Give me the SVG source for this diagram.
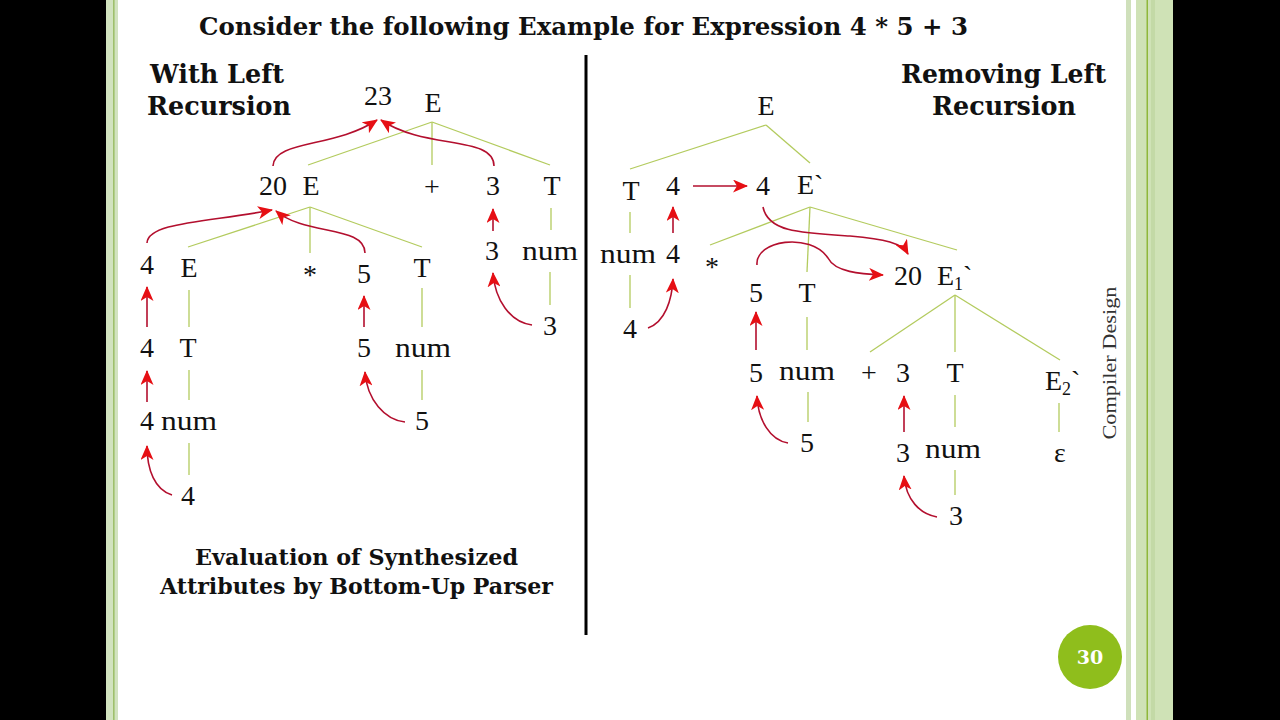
<svg xmlns="http://www.w3.org/2000/svg" width="1280" height="720" viewBox="0 0 1280 720">
<defs>
<style>
.lbl{font-family:"Liberation Serif","Times New Roman",serif;font-size:28px;fill:#111;text-anchor:middle}
.st{font-family:"Liberation Serif","Times New Roman",serif;font-size:28px;fill:#111}
.hd{font-family:"DejaVu Serif","Liberation Serif",serif;font-weight:bold;fill:#111}
.tl{stroke:#b3cb5e;stroke-width:1.3;fill:none}
.ar{stroke:#b30f2e;stroke-width:1.6;fill:none;marker-end:url(#ah)}
</style>
<marker id="ah" markerUnits="userSpaceOnUse" markerWidth="15" markerHeight="13" refX="14" refY="6.5" orient="auto">
<path d="M0,0 L15,6.5 L0,13 L4,6.5 z" fill="#e60f14"/>
</marker>
</defs>
<rect x="0" y="0" width="1280" height="720" fill="#ffffff"/>
<!-- borders -->
<rect x="0" y="0" width="106" height="720" fill="#000"/>
<rect x="106" y="0" width="12" height="720" fill="#d2e3bf"/>
<rect x="113" y="0" width="1.6" height="720" fill="#9fc06c"/>
<rect x="1126" y="0" width="5" height="720" fill="#cfe0bb"/>
<rect x="1136" y="0" width="37" height="720" fill="#cfe2b6"/>
<rect x="1146.5" y="0" width="1.5" height="720" fill="#8fb73a"/>
<rect x="1151" y="0" width="4" height="720" fill="#c3d9a6"/>
<rect x="1173" y="0" width="107" height="720" fill="#000"/>

<!-- headings -->
<g id="title"><text class="hd" x="199" y="35" font-size="24" textLength="769" lengthAdjust="spacingAndGlyphs">Consider the following Example for Expression 4 * 5 + 3</text></g>
<g id="head-left">
<text class="hd" x="150" y="83" font-size="26" textLength="134" lengthAdjust="spacingAndGlyphs">With Left</text>
<text class="hd" x="147" y="115" font-size="26" textLength="144" lengthAdjust="spacingAndGlyphs">Recursion</text>
</g>
<g id="head-right">
<text class="hd" x="901" y="83" font-size="26" textLength="205" lengthAdjust="spacingAndGlyphs">Removing Left</text>
<text class="hd" x="932" y="115" font-size="26" textLength="144" lengthAdjust="spacingAndGlyphs">Recursion</text>
</g>
<g id="caption">
<text class="hd" x="195" y="565" font-size="22" textLength="323" lengthAdjust="spacingAndGlyphs">Evaluation of Synthesized</text>
<text class="hd" x="160" y="594" font-size="22" textLength="393" lengthAdjust="spacingAndGlyphs">Attributes by Bottom-Up Parser</text>
</g>
<g id="divider"><line x1="586" y1="55" x2="586" y2="635" stroke="#000" stroke-width="3"/></g>
<g id="footer-side"><text x="0" y="0" transform="translate(1116,363) rotate(-90)" font-family="'Liberation Serif',serif" font-size="18" fill="#333" text-anchor="middle" textLength="153" lengthAdjust="spacingAndGlyphs">Compiler Design</text></g>
<g id="page-number">
<circle cx="1090" cy="657" r="32" fill="#8fbe1c"/>
<text x="1090" y="664" font-family="'DejaVu Serif',serif" font-weight="bold" font-size="19" fill="#fff" text-anchor="middle">30</text>
</g>

<!-- connectors -->
<g id="connectors">
<g id="tree-edges">
<line class="tl" x1="432" y1="122" x2="308" y2="165"/>
<line class="tl" x1="432" y1="122" x2="432" y2="165"/>
<line class="tl" x1="432" y1="122" x2="550" y2="165"/>
<line class="tl" x1="310" y1="207" x2="188" y2="247"/>
<line class="tl" x1="310" y1="207" x2="310" y2="253"/>
<line class="tl" x1="310" y1="207" x2="422" y2="247"/>
<line class="tl" x1="551" y1="208" x2="551" y2="230"/>
<line class="tl" x1="550" y1="272" x2="550" y2="305"/>
<line class="tl" x1="189" y1="290" x2="189" y2="327"/>
<line class="tl" x1="422" y1="288" x2="422" y2="327"/>
<line class="tl" x1="189" y1="370" x2="189" y2="400"/>
<line class="tl" x1="422" y1="370" x2="422" y2="400"/>
<line class="tl" x1="189" y1="443" x2="189" y2="475"/>
<line class="tl" x1="766" y1="125" x2="630" y2="169"/>
<line class="tl" x1="766" y1="125" x2="810" y2="163"/>
<line class="tl" x1="630" y1="212" x2="630" y2="233"/>
<line class="tl" x1="810" y1="207" x2="710" y2="245"/>
<line class="tl" x1="810" y1="207" x2="807" y2="272"/>
<line class="tl" x1="810" y1="207" x2="957" y2="250"/>
<line class="tl" x1="630" y1="275" x2="630" y2="308"/>
<line class="tl" x1="807" y1="317" x2="807" y2="350"/>
<line class="tl" x1="955" y1="295" x2="870" y2="352"/>
<line class="tl" x1="955" y1="295" x2="955" y2="352"/>
<line class="tl" x1="955" y1="295" x2="1060" y2="360"/>
<line class="tl" x1="808" y1="392" x2="808" y2="422"/>
<line class="tl" x1="955" y1="395" x2="955" y2="427"/>
<line class="tl" x1="1059" y1="403" x2="1059" y2="432"/>
<line class="tl" x1="955" y1="470" x2="955" y2="495"/>
</g>
<g id="value-arrows">
<path class="ar" d="M273,166 C274,140 335,148 377,120"/>
<path class="ar" d="M494,166 C494,135 425,150 381,120"/>
<path class="ar" d="M147,243 C148,222 210,222 272,210"/>
<path class="ar" d="M365,253 C365,225 305,236 276,211"/>
<path class="ar" d="M493,231 L493,209"/>
<path class="ar" d="M532,325 C510,322 495,300 493,273"/>
<path class="ar" d="M147,327 L147,287"/>
<path class="ar" d="M364,327 L364,296"/>
<path class="ar" d="M405,422 C385,420 367,400 365,372"/>
<path class="ar" d="M147,402 L147,371"/>
<path class="ar" d="M172,495 C155,490 147,470 147,446"/>
<path class="ar" d="M693,186 L747,186"/>
<path class="ar" d="M673,233 L673,207"/>
<path class="ar" d="M763,207 C768,232 800,233 850,236 C885,239 902,243 908,254"/>
<path class="ar" d="M757,265 C755,240 810,232 828,258 C835,272 860,274 883,275"/>
<path class="ar" d="M648,328 C665,322 672,300 673,279"/>
<path class="ar" d="M756,350 L756,312"/>
<path class="ar" d="M788,443 C770,440 758,420 757,396"/>
<path class="ar" d="M904,432 L904,396"/>
<path class="ar" d="M937,517 C920,514 906,500 904,476"/>
</g>
</g>

<!-- left tree nodes -->
<g id="L-root"><text class="lbl" x="378" y="105">23</text><text class="lbl" x="433" y="112">E</text></g>
<g id="L-E1"><text class="lbl" x="273" y="195">20</text><text class="lbl" x="311" y="195">E</text></g>
<g id="L-plus"><text class="lbl" x="432" y="196">+</text></g>
<g id="L-T1"><text class="lbl" x="493" y="195">3</text><text class="lbl" x="552" y="195">T</text></g>
<g id="L-E2"><text class="lbl" x="147" y="274">4</text><text class="lbl" x="189" y="277">E</text></g>
<g id="L-star"><text class="lbl" x="310" y="284">*</text></g>
<g id="L-T2"><text class="lbl" x="364" y="283">5</text><text class="lbl" x="422" y="277">T</text></g>
<g id="L-num3"><text class="lbl" x="492" y="260">3</text><text class="lbl" x="550" y="260" textLength="56" lengthAdjust="spacingAndGlyphs">num</text></g>
<g id="L-lex3"><text class="lbl" x="550" y="335">3</text></g>
<g id="L-T3"><text class="lbl" x="147" y="357">4</text><text class="lbl" x="188" y="357">T</text></g>
<g id="L-num5"><text class="lbl" x="364" y="357">5</text><text class="lbl" x="423" y="357" textLength="56" lengthAdjust="spacingAndGlyphs">num</text></g>
<g id="L-num4"><text class="lbl" x="147" y="430">4</text><text class="lbl" x="189" y="430" textLength="56" lengthAdjust="spacingAndGlyphs">num</text></g>
<g id="L-lex5"><text class="lbl" x="422" y="430">5</text></g>
<g id="L-lex4"><text class="lbl" x="188" y="505">4</text></g>

<!-- right tree nodes -->
<g id="R-root"><text class="lbl" x="766" y="115">E</text></g>
<g id="R-T"><text class="lbl" x="631" y="200">T</text><text class="lbl" x="673" y="195">4</text></g>
<g id="R-Ep"><text class="lbl" x="763" y="195">4</text><text class="st" x="797" y="194">E`</text></g>
<g id="R-num4"><text class="lbl" x="628" y="263" textLength="56" lengthAdjust="spacingAndGlyphs">num</text><text class="lbl" x="673" y="263">4</text></g>
<g id="R-star"><text class="lbl" x="712" y="276">*</text></g>
<g id="R-E1p"><text class="lbl" x="908" y="285">20</text><text class="st" x="937" y="285">E<tspan font-size="18" dy="5">1</tspan><tspan dy="-5">`</tspan></text></g>
<g id="R-lex4"><text class="lbl" x="630" y="338">4</text></g>
<g id="R-T2"><text class="lbl" x="756" y="302">5</text><text class="lbl" x="807" y="302">T</text></g>
<g id="R-num5"><text class="lbl" x="756" y="382">5</text><text class="lbl" x="807" y="380" textLength="56" lengthAdjust="spacingAndGlyphs">num</text></g>
<g id="R-plus"><text class="lbl" x="869" y="382">+</text></g>
<g id="R-T3"><text class="lbl" x="903" y="382">3</text><text class="lbl" x="955" y="382">T</text></g>
<g id="R-E2p"><text class="st" x="1045" y="390">E<tspan font-size="18" dy="5">2</tspan><tspan dy="-5">`</tspan></text></g>
<g id="R-lex5"><text class="lbl" x="807" y="452">5</text></g>
<g id="R-num3"><text class="lbl" x="903" y="462">3</text><text class="lbl" x="953" y="458" textLength="56" lengthAdjust="spacingAndGlyphs">num</text></g>
<g id="R-eps"><text class="lbl" x="1060" y="462">ε</text></g>
<g id="R-lex3"><text class="lbl" x="956" y="525">3</text></g>
</svg>
